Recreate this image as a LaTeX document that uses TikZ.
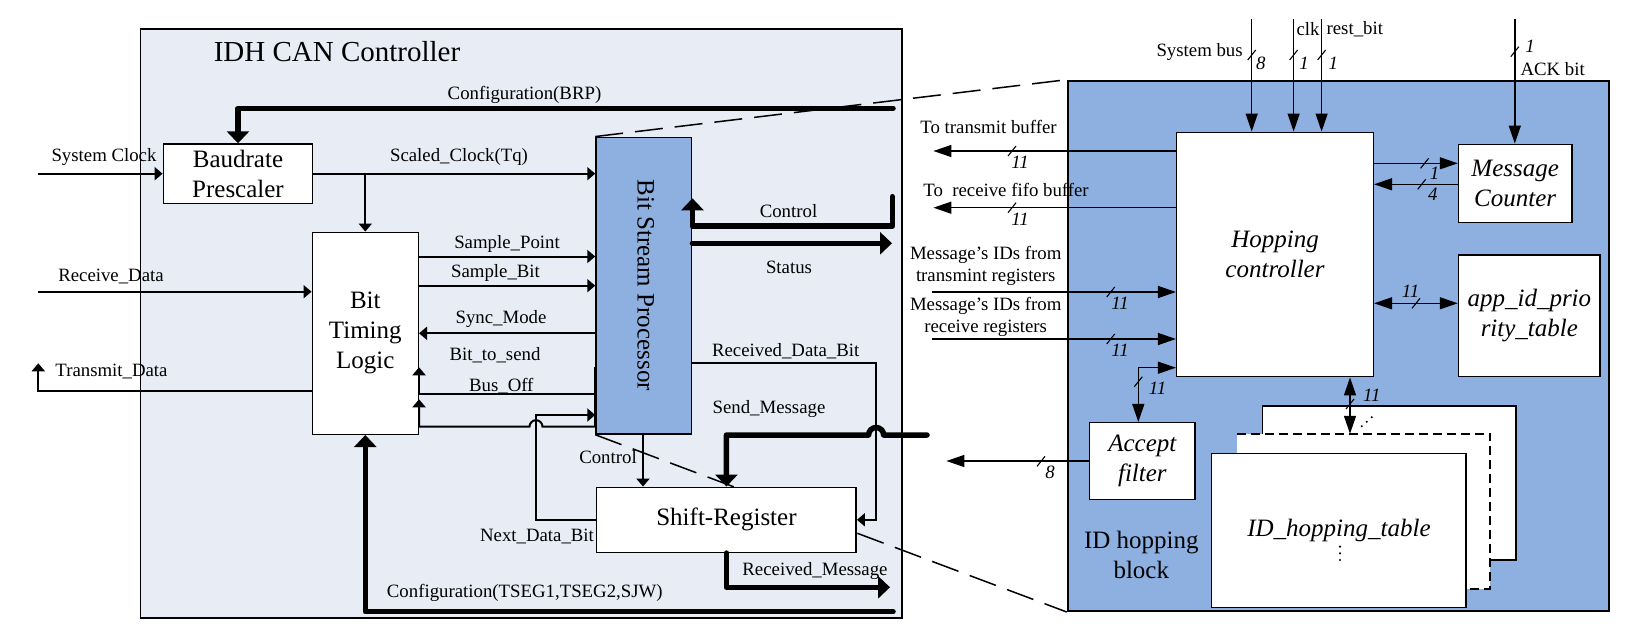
\documentclass[tikz,border=0pt]{standalone}
\usepackage{fontspec}
\setmainfont{Liberation Serif}
\usetikzlibrary{arrows.meta,calc}
\definecolor{ctrlbg}{RGB}{232,237,245}
\definecolor{blk}{RGB}{141,176,224}
\newcommand\smallf{\fontsize{18.8pt}{22.3pt}\selectfont}
\newcommand\bigf{\fontsize{25pt}{30pt}\selectfont}
\newcommand\titlef{\fontsize{29pt}{34pt}\selectfont}
\newcommand\busslash[1]{\draw[line width=1.1pt] ([shift={(-4,5)}]#1) -- ([shift={(4,-5)}]#1);}
\begin{document}
\begin{tikzpicture}[x=1pt,y=-1pt,
  tipA/.tip={Triangle[length=8pt,width=13pt]},
  tipB/.tip={Triangle[length=12pt,width=22pt]},
  tipC/.tip={Triangle[length=18pt,width=12pt]},
  box/.style={draw=black,line width=1.5pt,fill=white,inner sep=0pt,align=center,font=\bigf},
  lbl/.style={font=\smallf,inner sep=0pt,align=center},
  num/.style={font=\smallf\itshape,inner sep=0pt},
  tl/.style={line width=2pt},
  tr/.style={line width=1.4pt},
  tk/.style={line width=5.5pt,line cap=round,line join=round},
  dashln/.style={line width=1.5pt,dash pattern=on 28pt off 12pt}]
\useasboundingbox (0,0) rectangle (1627,631);

% containers
\node[draw,line width=1.7pt,fill=ctrlbg,minimum width=761.5pt,minimum height=589pt,inner sep=0pt] (ctrl) at (521.15,323.8) {};
\node[font=\titlef,inner sep=0pt] (title) at (337,51.7) {IDH CAN Controller};
\node[draw,line width=2pt,fill=blk,minimum width=540.9pt,minimum height=530.3pt,inner sep=0pt] (hop) at (1338.15,345.85) {};

% bit stream processor
\node[box,fill=blk,minimum width=95.7pt,minimum height=296.7pt] (bsp) at (643.85,285.65) {};
\draw[dashln] (bsp.north west) -- (hop.north west);
\draw[dashln] (bsp.south west) -- (hop.south west);
\node[rotate=-90,font=\bigf,inner sep=0pt] (bsptext) at (645.7,285.3) {Bit Stream Processor};

% left boxes
\node[box,minimum width=149.3pt,minimum height=59.3pt] (bp) at (238,173.7) {Baudrate\\Prescaler};
\node[box,minimum width=106pt,minimum height=202pt] (btl) at (365.3,333.3) {Bit\\Timing\\Logic};
\node[box,minimum width=259.5pt,minimum height=65pt] (sr) at (726.45,519.8) {Shift-Register};

% right boxes
\node[box,minimum width=196.6pt,minimum height=244.4pt,font=\bigf\itshape] (hc) at (1275,254.5) {Hopping\\controller};
\node[box,minimum width=113.3pt,minimum height=78.4pt,font=\bigf\itshape] (mc) at (1515.15,183.5) {Message\\Counter};
\node[box,minimum width=141.7pt,minimum height=121.7pt,font=\bigf\itshape] (app) at (1529.35,315.85) {app\_id\_prio\\rity\_table};
\node[box,minimum width=105.3pt,minimum height=76.6pt,font=\bigf\itshape] (af) at (1142.35,461) {Accept\\filter};
\node[box,minimum width=253.7pt,minimum height=154pt] (tab3) at (1389.15,483) {};
\node[fill=white,inner sep=0pt,minimum width=253.3pt,minimum height=154.7pt] (tab2) at (1363.35,511.35) {};
\node[box,minimum width=254.3pt,minimum height=154pt] (tab1) at (1338.85,530.3) {};
\draw[line width=1.5pt,dashed,dash pattern=on 9pt off 5pt] (tab2.north west) -- (tab2.north east) -- (tab2.south east) -- (tab1.east |- tab2.south);
\node[font=\bigf\itshape,inner sep=0pt] (tabtext) at (1339,530.7) {ID\_hopping\_table};
\foreach \d in {-6.7,0,6.7} \fill (1340,553.3+\d) circle (1.2);
\foreach \d in {-1,0,1} \fill (1366.7+5*\d,421.7-4.5*\d) circle (1.1);
\node[font=\bigf,align=center,inner sep=0pt] (hoplbl) at (1141.3,555) {ID hopping\\block};

% thick connectors
\draw[tk,-tipB] (893,108.3) -- (bp.north |- 0,108.3) -- (bp.north);
\draw[tk,-tipB] (893,611.7) -- (btl.south |- 0,611.7) -- (btl.south);
\draw[tk,-tipB] (892.4,196.7) -- (892.4,226) -- (bsp.east |- 0,226) -- (bsp.east |- 0,198.3);
\draw[tk,-tipB] (bsp.east |- 0,243.3) -- (892,243.3);
\draw[tk,-tipB] (927,435) -- (883.6,435) arc[start angle=0,end angle=-180,radius=7.5] -- (sr.north |- 0,435) -- (sr.north);
\draw[tk,-tipB] (sr.south) -- (sr.south |- 0,587.3) -- (890,587.3);

% left thin connectors
\draw[tl,-tipA] (38.3,0 |- bp.west) -- (bp.west);
\draw[tl,-tipA] (bp.east) -- (bsp.west |- bp.east);
\draw[tl,-tipA] (btl.north |- bp.east) -- (btl.north);
\draw[tl,-tipA] (btl.east |- 0,256.5) -- (bsp.west |- 0,256.5);
\draw[tl,-tipA] (btl.east |- 0,285.7) -- (bsp.west |- 0,285.7);
\draw[tl,-tipA] (bsp.west |- 0,333.3) -- (btl.east |- 0,333.3);
\draw[tl,-tipA] (38.3,291.7) -- (btl.west |- 0,291.7);
\draw[tl,-tipA] (btl.west |- 0,390.7) -- (38.3,390.7) -- (38.3,363.3);
\draw[tl,-tipA] (bsp.west |- 0,394) -- (btl.east |- 0,394) -- (btl.east |- 0,367.3);
\draw[tl,-tipA] (bsp.west |- 0,426.7) -- (542.5,426.7) arc[start angle=0,end angle=-180,radius=6.5] -- (btl.east |- 0,426.7) -- (btl.east |- 0,399.3);
\draw[tl] (bsp.west |- 0,366.7) -- (bsp.west |- 0,426.7);
\draw[tl,-tipA] (sr.west) -- (536,0 |- sr.west) -- (536,415) -- (bsp.west |- 0,415);
\draw[tl,-tipA] (643,0 |- bsp.south) -- (643,0 |- sr.north);
\draw[tl,-tipA] (bsp.east |- 0,362.7) -- (876.2,362.7) -- (876.2,0 |- sr.east) -- (sr.east);

% right thin connectors
\draw[tr,-tipC] (hc.west |- 0,151) -- (933.4,151);
\draw[tr,-tipC] (hc.west |- 0,207.7) -- (933.4,207.7);
\draw[tr,-tipC] (931.7,292) -- (hc.west |- 0,292);
\draw[tr,-tipC] (931.7,339) -- (hc.west |- 0,339);
\draw[tr,-tipC] (af.west) -- (946.4,0 |- af.west);
\draw[tr,tipC-tipC] (hc.west |- 0,367.7) -- (1138.3,367.7) -- (1138.3,0 |- af.north);
\draw[tr,-tipC] (hc.east |- 0,163.3) -- (mc.west |- 0,163.3);
\draw[tr,-tipC] (mc.west |- 0,184.3) -- (hc.east |- 0,184.3);
\draw[tr,tipC-tipC] (hc.east |- 0,303.3) -- (app.west |- 0,303.3);
\draw[tr,tipC-tipC] (1350,0 |- hc.south) -- (1350,0 |- tab2.north);
\draw[tr,-tipC] (1251.7,19) -- (1251.7,0 |- hc.north);
\draw[tr,-tipC] (1293.6,19) -- (1293.6,0 |- hc.north);
\draw[tr,-tipC] (1321.6,19) -- (1321.6,0 |- hc.north);
\draw[tr,-tipC] (1514.8,19) -- (1514.8,0 |- mc.north);

% bus slashes
\busslash{1012,151}
\busslash{1012,207.7}
\busslash{1110.7,292}
\busslash{1110.7,339}
\busslash{1041,461.3}
\busslash{1138.3,381.7}
\busslash{1251.7,55}
\busslash{1293.6,55}
\busslash{1321.6,55}
\busslash{1514.8,51.7}
\busslash{1424.6,163.3}
\busslash{1421.7,184.3}
\busslash{1416,303.3}
\busslash{1350,404}

% bus widths
\node[num] (n1) at (1020,162.7) {11};
\node[num] (n2) at (1020,219) {11};
\node[num] (n3) at (1120,303.3) {11};
\node[num] (n4) at (1120,350) {11};
\node[num] (n5) at (1157.5,388.3) {11};
\node[num] (n6) at (1410.6,291.7) {11};
\node[num] (n7) at (1371.7,395) {11};
\node[num] (n8) at (1050,472.7) {8};
\node[num] (n9) at (1260.9,63.3) {8};
\node[num] (n10) at (1304,63.3) {1};
\node[num] (n11) at (1333.4,63.3) {1};
\node[num] (n12) at (1530,46.7) {1};
\node[num] (n13) at (1434.6,173.3) {1};
\node[num] (n14) at (1432.7,194.3) {4};

% labels
\node[lbl] (l1) at (524.5,95) {Configuration(BRP)};
\node[lbl] (l2) at (104,157) {System Clock};
\node[lbl] (l3) at (459,157) {Scaled\_Clock(Tq)};
\node[lbl] (l4) at (507,244.3) {Sample\_Point};
\node[lbl] (l5) at (495.5,272.7) {Sample\_Bit};
\node[lbl] (l6) at (111,276.7) {Receive\_Data};
\node[lbl] (l7) at (501,319.3) {Sync\_Mode};
\node[lbl] (l8) at (495,355) {Bit\_to\_send};
\node[lbl] (l9) at (501.3,385.7) {Bus\_Off};
\node[lbl] (l10) at (111.5,371.7) {Transmit\_Data};
\node[lbl] (l11) at (788.5,211) {Control};
\node[lbl] (l12) at (789,267.7) {Status};
\node[lbl] (l13) at (785.7,350.7) {Received\_Data\_Bit};
\node[lbl] (l14) at (769,409.3) {Send\_Message};
\node[lbl] (l15) at (608,456.7) {Control};
\node[lbl] (l16) at (537,536) {Next\_Data\_Bit};
\node[lbl] (l17) at (524.8,593.3) {Configuration(TSEG1,TSEG2,SJW)};
\node[lbl] (l18) at (815,570.7) {Received\_Message};
\node[lbl] (l19) at (988.5,126.7) {To transmit buffer};
\node[lbl] (l20) at (1006,190) {To\ \ receive fifo buffer};
\node[lbl] (l21) at (985.7,266.2) {Message’s IDs from\\transmint registers};
\node[lbl] (l22) at (985.7,317.2) {Message’s IDs from\\receive registers};
\node[lbl] (l23) at (1199.6,51.7) {System bus};
\node[lbl] (l24) at (1308,29) {clk};
\node[lbl] (l25) at (1354.8,29) {rest\_bit};
\node[lbl] (l26) at (1552.6,69.3) {ACK bit};
\end{tikzpicture}
\end{document}
